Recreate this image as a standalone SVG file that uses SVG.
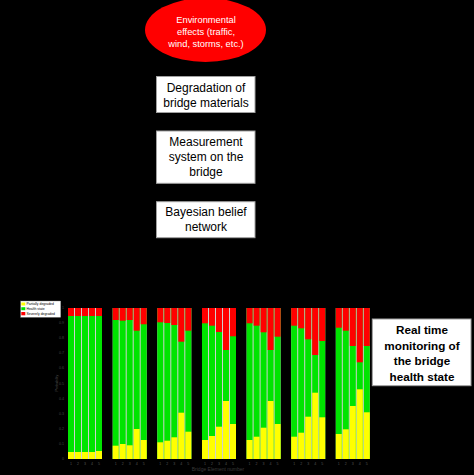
<svg xmlns="http://www.w3.org/2000/svg" width="474" height="475" viewBox="0 0 474 475">
<defs>
<style>
.box{fill:#fff;stroke:#a0a0a0;stroke-width:1}
.t{font-family:"Liberation Sans",Arial,sans-serif;font-size:12px;fill:#000;text-anchor:middle}
.tb{font-family:"Liberation Sans",Arial,sans-serif;font-size:11.7px;font-weight:bold;fill:#000;text-anchor:middle}
.te{font-family:"Liberation Sans",Arial,sans-serif;font-size:9.3px;fill:#fff;text-anchor:middle}
.tiny{font-family:"Liberation Sans",Arial,sans-serif;font-size:3.6px;fill:#555;text-anchor:middle}
.ytk{font-family:"Liberation Sans",Arial,sans-serif;font-size:3.6px;fill:#444;text-anchor:end}
.leg{font-family:"Liberation Sans",Arial,sans-serif;font-size:3.4px;fill:#000}
.r{fill:#ff0000}.g{fill:#00e400}.y{fill:#ffff00}
.bg{fill:#cfcfcf}
.conn{stroke:#000;stroke-width:1.5;fill:none}
</style>
<marker id="ah" viewBox="0 0 10 10" refX="9" refY="5" markerWidth="6" markerHeight="6" orient="auto"><path d="M0,0L10,5L0,10z" fill="#000"/></marker>
</defs>
<rect x="0" y="0" width="474" height="475" fill="#000"/>

<g id="connectors">
<line class="conn" x1="205.5" y1="62" x2="205.5" y2="76" marker-end="url(#ah)"/>
<line class="conn" x1="205.5" y1="113" x2="205.5" y2="130" marker-end="url(#ah)"/>
<line class="conn" x1="205.5" y1="184" x2="205.5" y2="201" marker-end="url(#ah)"/>
<line class="conn" x1="205.5" y1="238" x2="205.5" y2="300" marker-end="url(#ah)"/>
</g>

<g id="environmental-effects">
<ellipse cx="205.5" cy="30" rx="60.5" ry="32" fill="#ff0000"/>
<text class="te" x="206" y="23">Environmental</text>
<text class="te" x="206" y="35">effects (traffic,</text>
<text class="te" x="206" y="47">wind, storms, etc.)</text>
</g>

<g id="degradation">
<rect class="box" x="156.5" y="76.5" width="98.5" height="36"/>
<text class="t" x="206" y="92">Degradation of</text>
<text class="t" x="206" y="107">bridge materials</text>
</g>

<g id="measurement">
<rect class="box" x="156.5" y="131" width="98.5" height="52.3"/>
<text class="t" x="206" y="146">Measurement</text>
<text class="t" x="206" y="161">system on the</text>
<text class="t" x="206" y="176">bridge</text>
</g>

<g id="bayesian">
<rect class="box" x="156.5" y="201.7" width="98.5" height="36"/>
<text class="t" x="206" y="215.5">Bayesian belief</text>
<text class="t" x="206" y="230.5">network</text>
</g>

<g id="real-time">
<rect class="box" x="372.3" y="319" width="98.7" height="66.7"/>
<text class="tb" x="422" y="334">Real time</text>
<text class="tb" x="422" y="349.5">monitoring of</text>
<text class="tb" x="422" y="365">the bridge</text>
<text class="tb" x="422" y="380.5">health state</text>
</g>

<g id="chart">
<g id="legend">
<rect x="20.7" y="301" width="40" height="16.3" fill="#fff" stroke="#888" stroke-width="0.4"/>
<rect class="y" x="21.3" y="302.5" width="4" height="3"/>
<rect class="g" x="21.3" y="307.2" width="4" height="3"/>
<rect class="r" x="21.3" y="312" width="4" height="3.3"/>
<text class="leg" x="26.5" y="305.3">Partially degraded</text>
<text class="leg" x="26.5" y="310">Health state</text>
<text class="leg" x="26.5" y="314.8">Severely degraded</text>
</g>
<g id="y-axis">
<text class="ytk" x="64" y="460">0</text>
<text class="ytk" x="64" y="445">0.1</text>
<text class="ytk" x="64" y="430">0.2</text>
<text class="ytk" x="64" y="414.7">0.3</text>
<text class="ytk" x="64" y="399.6">0.4</text>
<text class="ytk" x="64" y="384.5">0.5</text>
<text class="ytk" x="64" y="369.4">0.6</text>
<text class="ytk" x="64" y="354.3">0.7</text>
<text class="ytk" x="64" y="339.2">0.8</text>
<text class="ytk" x="64" y="324.1">0.9</text>
<text class="ytk" x="64" y="309">1</text>
<text class="tiny" transform="translate(58,383) rotate(-90)" fill="#333">Probability</text>
</g>
<text class="tiny" x="218" y="471" style="font-size:5px;fill:#3a3a3a">Bridge Element number</text>

<g id="group-1" transform="translate(68,0)">
<rect class="bg" x="0" y="308" width="34" height="151"/>
<rect class="g" x="0" y="308" width="6" height="151"/><rect class="r" x="0" y="308" width="6" height="8"/><rect class="y" x="0" y="452" width="6" height="7"/>
<rect class="g" x="7" y="308" width="6" height="151"/><rect class="r" x="7" y="308" width="6" height="8"/><rect class="y" x="7" y="452" width="6" height="7"/>
<rect class="g" x="14" y="308" width="6" height="151"/><rect class="r" x="14" y="308" width="6" height="8"/><rect class="y" x="14" y="452" width="6" height="7"/>
<rect class="g" x="21" y="308" width="6" height="151"/><rect class="r" x="21" y="308" width="6" height="8"/><rect class="y" x="21" y="452" width="6" height="7"/>
<rect class="g" x="28" y="308" width="6" height="151"/><rect class="r" x="28" y="308" width="6" height="8"/><rect class="y" x="28" y="451" width="6" height="8"/>
<text class="tiny" x="3" y="464.5">1</text><text class="tiny" x="10" y="464.5">2</text><text class="tiny" x="17" y="464.5">3</text><text class="tiny" x="24" y="464.5">4</text><text class="tiny" x="31" y="464.5">5</text>
</g>

<g id="group-2" transform="translate(112.7,0)">
<rect class="bg" x="0" y="308" width="34" height="151"/>
<rect class="g" x="0" y="308" width="6" height="151"/><rect class="r" x="0" y="308" width="6" height="12"/><rect class="y" x="0" y="445.7" width="6" height="13.3"/>
<rect class="g" x="7" y="308" width="6" height="151"/><rect class="r" x="7" y="308" width="6" height="12.7"/><rect class="y" x="7" y="444" width="6" height="15"/>
<rect class="g" x="14" y="308" width="6" height="151"/><rect class="r" x="14" y="308" width="6" height="12"/><rect class="y" x="14" y="445.3" width="6" height="13.7"/>
<rect class="g" x="21" y="308" width="6" height="151"/><rect class="r" x="21" y="308" width="6" height="22.7"/><rect class="y" x="21" y="429" width="6" height="30"/>
<rect class="g" x="28" y="308" width="6" height="151"/><rect class="r" x="28" y="308" width="6" height="16.3"/><rect class="y" x="28" y="440" width="6" height="19"/>
<text class="tiny" x="3" y="464.5">1</text><text class="tiny" x="10" y="464.5">2</text><text class="tiny" x="17" y="464.5">3</text><text class="tiny" x="24" y="464.5">4</text><text class="tiny" x="31" y="464.5">5</text>
</g>

<g id="group-3" transform="translate(157.3,0)">
<rect class="bg" x="0" y="308" width="34" height="151"/>
<rect class="g" x="0" y="308" width="6" height="151"/><rect class="r" x="0" y="308" width="6" height="14.3"/><rect class="y" x="0" y="442.3" width="6" height="16.7"/>
<rect class="g" x="7" y="308" width="6" height="151"/><rect class="r" x="7" y="308" width="6" height="15"/><rect class="y" x="7" y="440.7" width="6" height="18.3"/>
<rect class="g" x="14" y="308" width="6" height="151"/><rect class="r" x="14" y="308" width="6" height="17"/><rect class="y" x="14" y="437.3" width="6" height="21.7"/>
<rect class="g" x="21" y="308" width="6" height="151"/><rect class="r" x="21" y="308" width="6" height="33.7"/><rect class="y" x="21" y="412.7" width="6" height="46.3"/>
<rect class="g" x="28" y="308" width="6" height="151"/><rect class="r" x="28" y="308" width="6" height="22.7"/><rect class="y" x="28" y="431.7" width="6" height="27.3"/>
<text class="tiny" x="3" y="464.5">1</text><text class="tiny" x="10" y="464.5">2</text><text class="tiny" x="17" y="464.5">3</text><text class="tiny" x="24" y="464.5">4</text><text class="tiny" x="31" y="464.5">5</text>
</g>

<g id="group-4" transform="translate(202,0)">
<rect class="bg" x="0" y="308" width="34" height="151"/>
<rect class="g" x="0" y="308" width="6" height="151"/><rect class="r" x="0" y="308" width="6" height="15.3"/><rect class="y" x="0" y="440" width="6" height="19"/>
<rect class="g" x="7" y="308" width="6" height="151"/><rect class="r" x="7" y="308" width="6" height="17.7"/><rect class="y" x="7" y="436" width="6" height="23"/>
<rect class="g" x="14" y="308" width="6" height="151"/><rect class="r" x="14" y="308" width="6" height="24"/><rect class="y" x="14" y="426.7" width="6" height="32.3"/>
<rect class="g" x="21" y="308" width="6" height="151"/><rect class="r" x="21" y="308" width="6" height="42"/><rect class="y" x="21" y="401" width="6" height="58"/>
<rect class="g" x="28" y="308" width="6" height="151"/><rect class="r" x="28" y="308" width="6" height="28.3"/><rect class="y" x="28" y="424" width="6" height="35"/>
<text class="tiny" x="3" y="464.5">1</text><text class="tiny" x="10" y="464.5">2</text><text class="tiny" x="17" y="464.5">3</text><text class="tiny" x="24" y="464.5">4</text><text class="tiny" x="31" y="464.5">5</text>
</g>

<g id="group-5" transform="translate(246.6,0)">
<rect class="bg" x="0" y="308" width="34" height="151"/>
<rect class="g" x="0" y="308" width="6" height="151"/><rect class="r" x="0" y="308" width="6" height="15.3"/><rect class="y" x="0" y="440" width="6" height="19"/>
<rect class="g" x="7" y="308" width="6" height="151"/><rect class="r" x="7" y="308" width="6" height="17.7"/><rect class="y" x="7" y="436.7" width="6" height="22.3"/>
<rect class="g" x="14" y="308" width="6" height="151"/><rect class="r" x="14" y="308" width="6" height="24.3"/><rect class="y" x="14" y="427.7" width="6" height="31.3"/>
<rect class="g" x="21" y="308" width="6" height="151"/><rect class="r" x="21" y="308" width="6" height="42"/><rect class="y" x="21" y="401" width="6" height="58"/>
<rect class="g" x="28" y="308" width="6" height="151"/><rect class="r" x="28" y="308" width="6" height="28.7"/><rect class="y" x="28" y="424" width="6" height="35"/>
<text class="tiny" x="3" y="464.5">1</text><text class="tiny" x="10" y="464.5">2</text><text class="tiny" x="17" y="464.5">3</text><text class="tiny" x="24" y="464.5">4</text><text class="tiny" x="31" y="464.5">5</text>
</g>

<g id="group-6" transform="translate(291.2,0)">
<rect class="bg" x="0" y="308" width="34" height="151"/>
<rect class="g" x="0" y="308" width="6" height="151"/><rect class="r" x="0" y="308" width="6" height="17.7"/><rect class="y" x="0" y="436.7" width="6" height="22.3"/>
<rect class="g" x="7" y="308" width="6" height="151"/><rect class="r" x="7" y="308" width="6" height="20.3"/><rect class="y" x="7" y="432.7" width="6" height="26.3"/>
<rect class="g" x="14" y="308" width="6" height="151"/><rect class="r" x="14" y="308" width="6" height="31.3"/><rect class="y" x="14" y="416.7" width="6" height="42.3"/>
<rect class="g" x="21" y="308" width="6" height="151"/><rect class="r" x="21" y="308" width="6" height="47"/><rect class="y" x="21" y="392.7" width="6" height="66.3"/>
<rect class="g" x="28" y="308" width="6" height="151"/><rect class="r" x="28" y="308" width="6" height="33"/><rect class="y" x="28" y="417.3" width="6" height="41.7"/>
<text class="tiny" x="3" y="464.5">1</text><text class="tiny" x="10" y="464.5">2</text><text class="tiny" x="17" y="464.5">3</text><text class="tiny" x="24" y="464.5">4</text><text class="tiny" x="31" y="464.5">5</text>
</g>

<g id="group-7" transform="translate(335.8,0)">
<rect class="bg" x="0" y="308" width="34" height="151"/>
<rect class="g" x="0" y="308" width="6" height="151"/><rect class="r" x="0" y="308" width="6" height="19.7"/><rect class="y" x="0" y="434" width="6" height="25"/>
<rect class="g" x="7" y="308" width="6" height="151"/><rect class="r" x="7" y="308" width="6" height="22.7"/><rect class="y" x="7" y="429.3" width="6" height="29.7"/>
<rect class="g" x="14" y="308" width="6" height="151"/><rect class="r" x="14" y="308" width="6" height="38"/><rect class="y" x="14" y="406" width="6" height="53"/>
<rect class="g" x="21" y="308" width="6" height="151"/><rect class="r" x="21" y="308" width="6" height="54.3"/><rect class="y" x="21" y="389.3" width="6" height="69.7"/>
<rect class="g" x="28" y="308" width="6" height="151"/><rect class="r" x="28" y="308" width="6" height="38"/><rect class="y" x="28" y="412.3" width="6" height="46.7"/>
<text class="tiny" x="3" y="464.5">1</text><text class="tiny" x="10" y="464.5">2</text><text class="tiny" x="17" y="464.5">3</text><text class="tiny" x="24" y="464.5">4</text><text class="tiny" x="31" y="464.5">5</text>
</g>
</g>
</svg>
